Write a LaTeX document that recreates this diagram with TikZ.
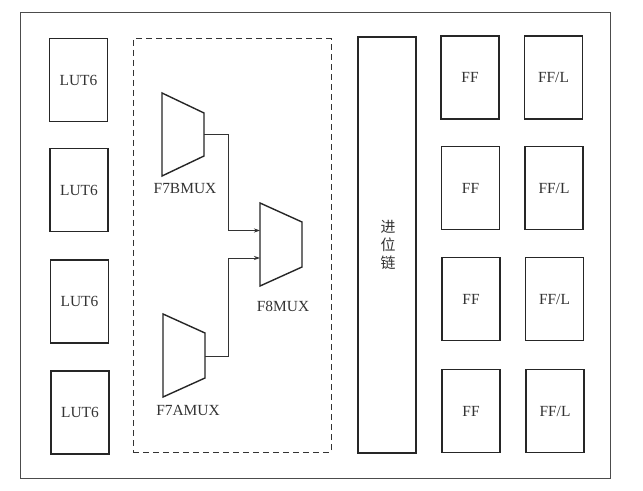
\documentclass[tikz,border=0pt]{standalone}
\usepackage{fontspec}
\setmainfont{Liberation Serif}
\newfontfamily\cjkfont{Noto Sans CJK SC}
\usetikzlibrary{arrows.meta}
\begin{document}
\begin{tikzpicture}[x=1bp,y=-1bp,
  every node/.style={font=\fontsize{15.5}{18}\selectfont, text=black!80},
  cell/.style={draw=black!85, line width=1.4bp, inner sep=0pt, minimum width=58bp, minimum height=83bp},
  muxline/.style={draw=black!85, line width=1.4bp, line join=miter},
  wire/.style={draw=black!80, line width=0.8bp, -{Stealth[length=6bp,width=4bp]}},
  lbl/.style={inner sep=0pt}]
\useasboundingbox (0,0) rectangle (643,491);
\fill[white] (0,0) rectangle (643,491);
% outer frame
\node[draw=black!70, line width=1bp, inner sep=0pt, minimum width=589bp, minimum height=465bp] (frame) at (315.5,245.5) {};
% LUT6 column
\node[cell] (lut1) at (78.5,80) {LUT6};
\node[cell] (lut2) at (79,190) {LUT6};
\node[cell] (lut3) at (79.5,301.5) {LUT6};
\node[cell] (lut4) at (80,412.5) {LUT6};
% dashed mux region
\node[draw=black!80, line width=1bp, dash pattern=on 6bp off 4bp, inner sep=0pt, minimum width=198bp, minimum height=413bp] (muxreg) at (232,245.5) {};
% F7BMUX
\draw[muxline] (162,93) -- (204,113) -- (204,156) -- (162,176) -- cycle;
\coordinate (f7bout) at (204,134.5);
\node[lbl] (f7blbl) at (185,189) {F7BMUX};
% F7AMUX
\draw[muxline] (163,314) -- (205,333) -- (205,378) -- (163,397) -- cycle;
\coordinate (f7aout) at (205,356);
\node[lbl] (f7albl) at (188,410) {F7AMUX};
% F8MUX
\draw[muxline] (260,203) -- (302,222) -- (302,267) -- (260,286) -- cycle;
\coordinate (f8in1) at (260,230.5);
\coordinate (f8in2) at (260,258);
\node[lbl] (f8lbl) at (283,306) {F8MUX};
% wires
\draw[wire] (f7bout) -- (228,134.5) |- (f8in1);
\draw[wire] (f7aout) -- (228,356) |- (f8in2);
% carry chain
\node[draw=black!85, line width=1.4bp, inner sep=0pt, minimum width=58bp, minimum height=416bp] (carry) at (387,245) {};
\node[lbl, font=\cjkfont\fontsize{15}{18}\selectfont, align=center] (carrytxt) at (388,245) {进\\位\\链};
% FF columns
\node[cell] (ff1) at (470,77.5) {FF};
\node[cell] (ff2) at (470.5,188) {FF};
\node[cell] (ff3) at (471,299) {FF};
\node[cell] (ff4) at (471,411) {FF};
\node[cell] (ffl1) at (553.5,77.5) {FF/L};
\node[cell] (ffl2) at (554,188) {FF/L};
\node[cell] (ffl3) at (554.5,299) {FF/L};
\node[cell] (ffl4) at (555,411) {FF/L};
\end{tikzpicture}
\end{document}
